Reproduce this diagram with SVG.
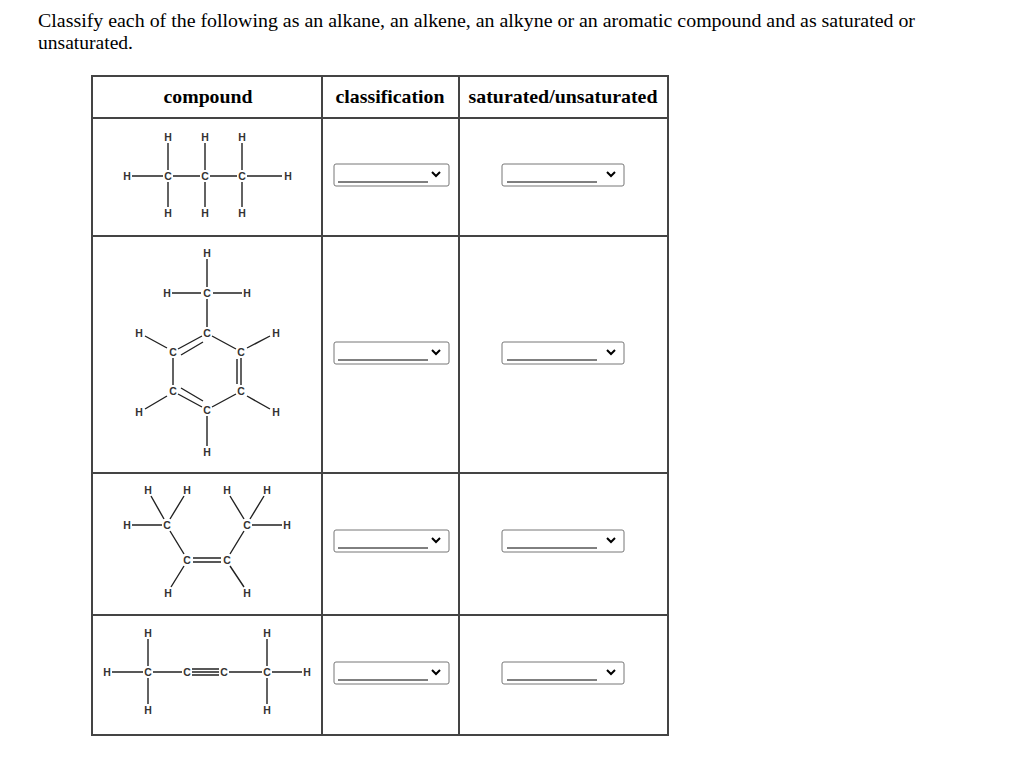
<svg xmlns="http://www.w3.org/2000/svg" width="1024" height="760" viewBox="0 0 1024 760">
<style>
.t{font-family:"Liberation Serif","Times New Roman","DejaVu Serif",serif;font-size:19px;fill:#000}
.h{font-family:"Liberation Serif","Times New Roman","DejaVu Serif",serif;font-size:19px;font-weight:bold;fill:#000}
.a{font-family:"Liberation Sans",Arial,sans-serif;font-size:10.5px;font-weight:bold;fill:#333;text-anchor:middle;dominant-baseline:central}
.b{stroke:#222;stroke-width:1.4;fill:none}
.g{stroke:#444;stroke-width:2;fill:none}
.dd{fill:#fff;stroke:#777;stroke-width:1}
.ul{stroke:#000;stroke-width:1}
.ch{stroke:#000;stroke-width:2;fill:none}
</style>
<rect width="1024" height="760" fill="#fff"/>
<text class="t" x="38" y="27" textLength="877" lengthAdjust="spacingAndGlyphs">Classify each of the following as an alkane, an alkene, an alkyne or an aromatic compound and as saturated or</text>
<text class="t" x="38" y="49" textLength="95" lengthAdjust="spacingAndGlyphs">unsaturated.</text>
<g id="table">
<rect class="g" x="92" y="76" width="576" height="659"/>
<line class="g" x1="322" y1="76" x2="322" y2="735"/>
<line class="g" x1="459" y1="76" x2="459" y2="735"/>
<line class="g" x1="92" y1="118" x2="668" y2="118"/>
<line class="g" x1="92" y1="236" x2="668" y2="236"/>
<line class="g" x1="92" y1="473" x2="668" y2="473"/>
<line class="g" x1="92" y1="615" x2="668" y2="615"/>
<text class="h" x="208" y="103" text-anchor="middle" textLength="89" lengthAdjust="spacingAndGlyphs">compound</text>
<text class="h" x="390" y="103" text-anchor="middle" textLength="109" lengthAdjust="spacingAndGlyphs">classification</text>
<text class="h" x="563" y="103" text-anchor="middle" textLength="189" lengthAdjust="spacingAndGlyphs">saturated/unsaturated</text>
</g>
<g id="dropdowns">
<g id="dd1"><rect class="dd" x="334" y="164" width="115" height="22" rx="2"/><line class="ul" x1="338" y1="182" x2="428" y2="182"/><path class="ch" d="M432 172l4 4 4-4"/></g>
<g id="dd2"><rect class="dd" x="502" y="164" width="122" height="22" rx="2"/><line class="ul" x1="507" y1="182" x2="597" y2="182"/><path class="ch" d="M607 172l4 4 4-4"/></g>
<g id="dd3"><rect class="dd" x="334" y="342" width="115" height="22" rx="2"/><line class="ul" x1="338" y1="360" x2="428" y2="360"/><path class="ch" d="M432 350l4 4 4-4"/></g>
<g id="dd4"><rect class="dd" x="502" y="342" width="122" height="22" rx="2"/><line class="ul" x1="507" y1="360" x2="597" y2="360"/><path class="ch" d="M607 350l4 4 4-4"/></g>
<g id="dd5"><rect class="dd" x="334" y="530" width="115" height="22" rx="2"/><line class="ul" x1="338" y1="548" x2="428" y2="548"/><path class="ch" d="M432 538l4 4 4-4"/></g>
<g id="dd6"><rect class="dd" x="502" y="530" width="122" height="22" rx="2"/><line class="ul" x1="507" y1="548" x2="597" y2="548"/><path class="ch" d="M607 538l4 4 4-4"/></g>
<g id="dd7"><rect class="dd" x="334" y="662" width="115" height="22" rx="2"/><line class="ul" x1="338" y1="680" x2="428" y2="680"/><path class="ch" d="M432 670l4 4 4-4"/></g>
<g id="dd8"><rect class="dd" x="502" y="662" width="122" height="22" rx="2"/><line class="ul" x1="507" y1="680" x2="597" y2="680"/><path class="ch" d="M607 670l4 4 4-4"/></g>
</g>
<g id="propane">
<path class="b" d="M132 176H163M173 176H200M210 176H237M247 176H282M168 143V170M168 182V207M205 143V170M205 182V207M242 143V170M242 182V207"/>
<text class="a" x="168" y="176">C</text><text class="a" x="205" y="176">C</text><text class="a" x="242" y="176">C</text>
<text class="a" x="127" y="176">H</text><text class="a" x="288" y="176">H</text>
<text class="a" x="168" y="137">H</text><text class="a" x="205" y="137">H</text><text class="a" x="242" y="137">H</text>
<text class="a" x="168" y="213">H</text><text class="a" x="205" y="213">H</text><text class="a" x="242" y="213">H</text>
</g>
<g id="toluene">
<path class="b" d="M207 259V287M172 293H201M213 293H242M207 299V327M202 336L178 349M212 336L236 349M173 358V385M241 358V385M178 394L202 407M236 394L212 407M207 416V446M145 336L167 348M270 336L247 348M145 409L167 396M270 409L247 396"/>
<path class="b" d="M181 355L203 342M237 359V384M181 388L203 401"/>
<text class="a" x="207" y="253">H</text><text class="a" x="207" y="293">C</text>
<text class="a" x="167" y="293">H</text><text class="a" x="247" y="293">H</text>
<text class="a" x="207" y="333">C</text><text class="a" x="173" y="352">C</text><text class="a" x="241" y="352">C</text>
<text class="a" x="173" y="391">C</text><text class="a" x="241" y="391">C</text><text class="a" x="207" y="410">C</text>
<text class="a" x="207" y="452">H</text>
<text class="a" x="139" y="333">H</text><text class="a" x="276" y="333">H</text>
<text class="a" x="139" y="412">H</text><text class="a" x="276" y="412">H</text>
</g>
<g id="butene">
<path class="b" d="M151 496L164 519M184 496L170 519M230 496L244 519M264 496L250 519M132 525H162M252 525H282M170 531L184 554M244 531L230 554M193 558H221M193 562H221M184 566L171 587M230 566L244 587"/>
<text class="a" x="148" y="490">H</text><text class="a" x="187" y="490">H</text><text class="a" x="227" y="490">H</text><text class="a" x="267" y="490">H</text>
<text class="a" x="127" y="525">H</text><text class="a" x="167" y="525">C</text><text class="a" x="247" y="525">C</text><text class="a" x="287" y="525">H</text>
<text class="a" x="187" y="560">C</text><text class="a" x="227" y="560">C</text>
<text class="a" x="168" y="593">H</text><text class="a" x="247" y="593">H</text>
</g>
<g id="butyne">
<path class="b" d="M112 672H143M153 672H182M192 669H219M192 672H219M192 675H219M229 672H262M272 672H302M148 639V666M148 678V704M267 639V666M267 678V704"/>
<text class="a" x="107" y="672">H</text><text class="a" x="148" y="672">C</text><text class="a" x="187" y="672">C</text>
<text class="a" x="224" y="672">C</text><text class="a" x="267" y="672">C</text><text class="a" x="307" y="672">H</text>
<text class="a" x="148" y="633">H</text><text class="a" x="267" y="633">H</text>
<text class="a" x="148" y="710">H</text><text class="a" x="267" y="710">H</text>
</g>
</svg>
